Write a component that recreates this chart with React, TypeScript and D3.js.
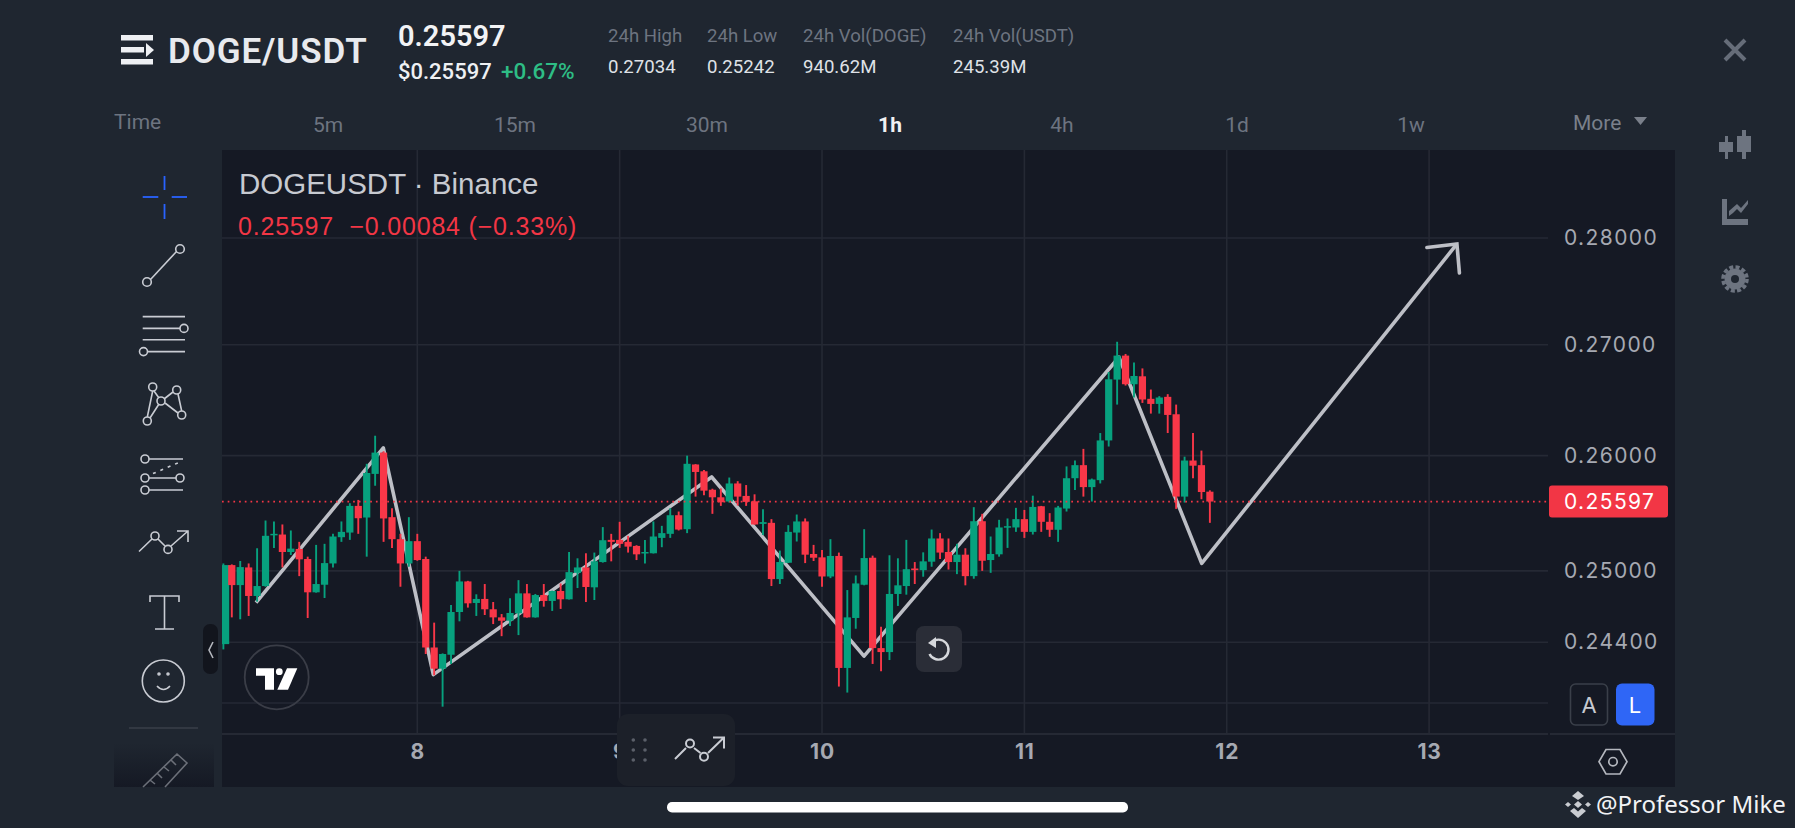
import { useEffect, useRef } from "react";
import * as d3 from "d3";

// hourly candles, first one is day 7 01:00
const opens = [
  0.24384, 0.25049, 0.24879, 0.25029, 0.24787, 0.24871, 0.25305, 0.25311, 0.25161, 0.25187,
  0.25101, 0.24818, 0.24882, 0.25063, 0.25288, 0.25328, 0.25559, 0.25458, 0.25839, 0.26027,
  0.25461, 0.25271, 0.25063, 0.25254, 0.25101, 0.24356, 0.24181, 0.24296, 0.24652, 0.2491,
  0.24728, 0.24762, 0.24675, 0.24607, 0.24579, 0.24641, 0.24809, 0.24607, 0.24795, 0.24745,
  0.24829, 0.24759, 0.24983, 0.25029, 0.2486, 0.25075, 0.25265, 0.25265, 0.25248, 0.25213,
  0.2515, 0.2515, 0.25282, 0.25317, 0.25478, 0.25357, 0.25922, 0.25862, 0.257, 0.25634,
  0.25597, 0.25755, 0.25646, 0.25599, 0.25403, 0.25412, 0.2493, 0.25069, 0.25328, 0.25424,
  0.25144, 0.25115, 0.24952, 0.25127, 0.24187, 0.24602, 0.24882, 0.25112, 0.24351, 0.24318,
  0.24804, 0.24871, 0.2502, 0.25006, 0.25078, 0.25277, 0.25161, 0.25075, 0.25138, 0.24955,
  0.25426, 0.25092, 0.25141, 0.25372, 0.25372, 0.25444, 0.25334, 0.25556, 0.25421, 0.25352,
  0.25536, 0.25801, 0.25916, 0.25723, 0.25784, 0.26135, 0.26682, 0.26901, 0.2664, 0.26712,
  0.26508, 0.26462, 0.26526, 0.26369, 0.2564, 0.25957, 0.25916, 0.25683,
];
const highs = [
  0.25063, 0.25055, 0.25084, 0.25063, 0.25193, 0.25432, 0.25424, 0.25398, 0.25346, 0.25248,
  0.25121, 0.25222, 0.25231, 0.25317, 0.25424, 0.25582, 0.25611, 0.25928, 0.26177, 0.26039,
  0.25539, 0.25317, 0.25461, 0.25317, 0.25121, 0.24563, 0.24307, 0.24711, 0.25, 0.24915,
  0.24801, 0.24888, 0.24736, 0.24635, 0.24767, 0.24921, 0.24888, 0.24804, 0.24888, 0.24832,
  0.24893, 0.25161, 0.25107, 0.2515, 0.25156, 0.25375, 0.25317, 0.25421, 0.253, 0.25219,
  0.25265, 0.25424, 0.25386, 0.25539, 0.2551, 0.26, 0.25925, 0.25873, 0.25709, 0.25712,
  0.25807, 0.25775, 0.25741, 0.2566, 0.2553, 0.25444, 0.25173, 0.25392, 0.25484, 0.2545,
  0.25222, 0.25179, 0.25271, 0.25156, 0.24837, 0.24961, 0.25357, 0.2513, 0.24529, 0.25133,
  0.25107, 0.25265, 0.25075, 0.25158, 0.25354, 0.25323, 0.25277, 0.25231, 0.25193, 0.25548,
  0.2549, 0.25294, 0.25438, 0.2545, 0.25542, 0.25524, 0.25648, 0.25559, 0.25496, 0.25559,
  0.25905, 0.25957, 0.2606, 0.25798, 0.26201, 0.26751, 0.27028, 0.26916, 0.26838, 0.26784,
  0.26592, 0.26532, 0.2655, 0.26456, 0.25991, 0.26201, 0.26045, 0.25695,
];
const lows = [
  0.2434, 0.24607, 0.24591, 0.24619, 0.24739, 0.24865, 0.25196, 0.25029, 0.25135, 0.24955,
  0.24602, 0.24815, 0.2477, 0.25029, 0.25248, 0.25265, 0.25317, 0.25121, 0.25735, 0.25248,
  0.25196, 0.24865, 0.25035, 0.25086, 0.24302, 0.24127, 0.2387, 0.2422, 0.24574, 0.24689,
  0.24619, 0.24627, 0.24551, 0.2445, 0.24535, 0.24459, 0.24605, 0.24605, 0.24697, 0.24661,
  0.24678, 0.24757, 0.24854, 0.24736, 0.24753, 0.2507, 0.25081, 0.25196, 0.25156, 0.25092,
  0.25063, 0.25148, 0.25202, 0.25282, 0.25346, 0.25323, 0.2564, 0.25651, 0.2549, 0.25559,
  0.25588, 0.25562, 0.25559, 0.25396, 0.25308, 0.24871, 0.24888, 0.25067, 0.25251, 0.25066,
  0.25084, 0.24865, 0.24938, 0.24034, 0.23985, 0.24512, 0.24877, 0.2422, 0.2416, 0.24252,
  0.24703, 0.24798, 0.24888, 0.2495, 0.25035, 0.25101, 0.25011, 0.24972, 0.24877, 0.24933,
  0.25, 0.24983, 0.25121, 0.25196, 0.25334, 0.25282, 0.25311, 0.25334, 0.25291, 0.25248,
  0.2551, 0.25697, 0.2564, 0.25597, 0.25755, 0.26081, 0.26456, 0.26628, 0.2652, 0.26471,
  0.26375, 0.26375, 0.26201, 0.25533, 0.25588, 0.25801, 0.25617, 0.25412,
];
const closes = [
  0.25049, 0.24879, 0.25032, 0.24787, 0.24871, 0.253, 0.25317, 0.25161, 0.2519, 0.25098,
  0.24818, 0.24888, 0.25066, 0.25294, 0.25334, 0.25559, 0.25452, 0.25847, 0.26027, 0.2545,
  0.25271, 0.25063, 0.25254, 0.25092, 0.24356, 0.24181, 0.24302, 0.24652, 0.2491, 0.24725,
  0.24762, 0.24675, 0.24607, 0.24579, 0.24644, 0.24809, 0.24607, 0.24795, 0.24745, 0.24829,
  0.24759, 0.24989, 0.25029, 0.24863, 0.25081, 0.25262, 0.25248, 0.25231, 0.25207, 0.25141,
  0.25161, 0.25294, 0.25323, 0.25478, 0.25354, 0.25928, 0.25856, 0.25692, 0.25634, 0.25591,
  0.25755, 0.2564, 0.25594, 0.25398, 0.25418, 0.2493, 0.25075, 0.25334, 0.25424, 0.25138,
  0.25112, 0.24952, 0.25127, 0.24187, 0.24607, 0.24893, 0.25109, 0.24351, 0.24318, 0.24804,
  0.24877, 0.25014, 0.25006, 0.25081, 0.25277, 0.25156, 0.25075, 0.25138, 0.24955, 0.25426,
  0.25086, 0.25144, 0.25372, 0.25383, 0.25444, 0.25334, 0.2555, 0.25421, 0.25352, 0.25545,
  0.25801, 0.25916, 0.25723, 0.2579, 0.26135, 0.26685, 0.26901, 0.2664, 0.26715, 0.26502,
  0.26462, 0.2652, 0.26363, 0.2564, 0.25957, 0.25911, 0.2568, 0.25597,
];

// the hand drawn wave, hours since day 7 00:00 and price
const waveHours = [4.87, 19.97, 25.9, 58.91, 76.98, 107.22, 117.03, 147.3];
const wavePrices = [0.24731, 0.26069, 0.24132, 0.25812, 0.24285, 0.26886, 0.25064, 0.27943];

const dayHours = [24, 48, 72, 96, 120, 144];
const dayLabels = ["8", "9", "10", "11", "12", "13"];
const priceLabels = [0.28, 0.27, 0.26, 0.25, 0.244];
const priceGrid = [0.28, 0.27, 0.26, 0.25, 0.244, 0.239];
const lastPrice = 0.25597;

const intervals = ["5m", "15m", "30m", "1h", "4h", "1d", "1w"];
const intervalX = [328, 515, 707, 890, 1062, 1237, 1411];
const statNames = ["24h High", "24h Low", "24h Vol(DOGE)", "24h Vol(USDT)"];
const statValues = ["0.27034", "0.25242", "940.62M", "245.39M"];
const statX = [608, 707, 803, 953];

const GREEN = "#07a17e";
const RED = "#f93748";
const PAGE = "#1f2630";
const CHART = "#151924";
const GRID = "#252934";
const UI_FONT = "Roboto, sans-serif";
const TV_FONT = "Inter, sans-serif";

const icon = { fill: "none", stroke: "#c9ccd3", strokeWidth: 1.6 };

export default function App() {
  const chartRef = useRef<SVGGElement>(null);

  useEffect(() => {
    const xScale = d3.scaleLinear().domain([24, 144]).range([417.3, 1429.1]);
    const yScale = d3.scaleLog().domain([0.28, 0.239]).range([238, 703]);

    const g = d3.select(chartRef.current);
    g.selectAll("*").remove();

    // grid
    g.append("g")
      .selectAll("line")
      .data(priceGrid)
      .join("line")
      .attr("x1", 222)
      .attr("x2", 1548)
      .attr("y1", (d) => yScale(d))
      .attr("y2", (d) => yScale(d))
      .attr("stroke", GRID)
      .attr("stroke-width", 1.6);
    g.append("g")
      .selectAll("line")
      .data(dayHours)
      .join("line")
      .attr("x1", (d) => xScale(d))
      .attr("x2", (d) => xScale(d))
      .attr("y1", 150)
      .attr("y2", 733)
      .attr("stroke", GRID)
      .attr("stroke-width", 1.6);

    // drawn wave goes under the candles
    const pts = waveHours.map((h, i) => [xScale(h), yScale(wavePrices[i])] as [number, number]);
    const tip = pts[pts.length - 1];
    g.append("path")
      .attr("d", d3.line()(pts))
      .attr("fill", "none")
      .attr("stroke", "#bdbfc6")
      .attr("stroke-width", 3.6)
      .attr("stroke-linejoin", "round");
    g.append("path")
      .attr(
        "d",
        d3.line()([
          [tip[0] - 30, tip[1] + 3.5],
          tip,
          [tip[0] + 2.5, tip[1] + 29],
        ])
      )
      .attr("fill", "none")
      .attr("stroke", "#bdbfc6")
      .attr("stroke-width", 3.6)
      .attr("stroke-linecap", "round");

    // candles
    const candleX = (i: number) => xScale(i + 1);
    const colorOf = (i: number) => (closes[i] >= opens[i] ? GREEN : RED);
    g.append("g")
      .selectAll("line")
      .data(closes)
      .join("line")
      .attr("x1", (_, i) => candleX(i))
      .attr("x2", (_, i) => candleX(i))
      .attr("y1", (_, i) => yScale(highs[i]))
      .attr("y2", (_, i) => yScale(lows[i]))
      .attr("stroke", (_, i) => colorOf(i))
      .attr("stroke-width", 1.9);
    g.append("g")
      .selectAll("rect")
      .data(closes)
      .join("rect")
      .attr("x", (_, i) => Math.max(candleX(i) - 3.6, 222))
      .attr("width", 7.2)
      .attr("y", (_, i) => yScale(Math.max(opens[i], closes[i])))
      .attr("height", (_, i) =>
        Math.max(1.5, Math.abs(yScale(opens[i]) - yScale(closes[i])))
      )
      .attr("fill", (_, i) => colorOf(i));

    // last price line
    g.append("line")
      .attr("x1", 222)
      .attr("x2", 1549)
      .attr("y1", yScale(lastPrice))
      .attr("y2", yScale(lastPrice))
      .attr("stroke", "#f23645")
      .attr("stroke-width", 1.7)
      .attr("stroke-dasharray", "1.7 4");

    // axes
    const xAxis = d3
      .axisBottom(xScale)
      .tickValues(dayHours)
      .tickSize(0)
      .tickFormat((_, i) => dayLabels[i]);
    const xg = g.append("g").attr("transform", "translate(0,741)").call(xAxis);
    xg.select(".domain").remove();
    xg.selectAll("text")
      .attr("font-family", TV_FONT)
      .attr("font-size", 21)
      .attr("font-weight", 700)
      .attr("letter-spacing", 0.8)
      .attr("fill", "#a6a9b2");

    const yAxis = d3
      .axisRight(yScale)
      .tickValues(priceLabels)
      .tickSize(0)
      .tickFormat(d3.format(".5f"));
    const yg = g.append("g").attr("transform", "translate(1564,0)").call(yAxis);
    yg.select(".domain").remove();
    yg.selectAll("text")
      .attr("x", 0)
      .attr("font-family", TV_FONT)
      .attr("font-size", 21)
      .attr("letter-spacing", 1.4)
      .attr("fill", "#a6a9b2");

    // last price label
    g.append("rect")
      .attr("x", 1549)
      .attr("y", yScale(lastPrice) - 16)
      .attr("width", 119)
      .attr("height", 32)
      .attr("rx", 3)
      .attr("fill", "#f23645");
    g.append("text")
      .attr("x", 1564)
      .attr("y", yScale(lastPrice))
      .attr("dy", "0.36em")
      .attr("font-family", TV_FONT)
      .attr("font-size", 21)
      .attr("letter-spacing", 1.4)
      .attr("fill", "#ffffff")
      .text(d3.format(".5f")(lastPrice));
  }, []);

  return (
    <svg
      width={1795}
      height={828}
      viewBox="0 0 1795 828"
      style={{ position: "fixed", top: 0, left: 0 }}
    >
      <rect width={1795} height={828} fill={PAGE} />

      {/* header */}
      <g fill="#eef0f3">
        <rect x={121} y={35} width={32} height={5.5} />
        <rect x={121} y={47} width={23} height={5.5} />
        <rect x={121} y={59} width={32} height={5.5} />
        <path d="M146 43 L154 50 L146 57 Z" />
      </g>
      <text x={168} y={63} fontFamily={UI_FONT} fontSize={35} fontWeight={600} letterSpacing={0.9} fill="#e8eaee">
        DOGE/USDT
      </text>
      <text x={398} y={46} fontFamily={UI_FONT} fontSize={29} fontWeight={600} fill="#f2f3f5">
        0.25597
      </text>
      <text x={398} y={79} fontFamily={UI_FONT} fontSize={22} fontWeight={500} fill="#eef0f3">
        $0.25597
      </text>
      <text x={501} y={79} fontFamily={UI_FONT} fontSize={22.5} fontWeight={500} fill="#2ebd85">
        +0.67%
      </text>
      {statNames.map((s, i) => (
        <text key={s} x={statX[i]} y={42} fontFamily={UI_FONT} fontSize={18.6} fill="#6d7480">
          {s}
        </text>
      ))}
      {statValues.map((s, i) => (
        <text key={s} x={statX[i]} y={73} fontFamily={UI_FONT} fontSize={18.6} fill="#dfe2e7">
          {s}
        </text>
      ))}

      {/* interval row */}
      <text x={114} y={129} fontFamily={UI_FONT} fontSize={21} fill="#6d7480">
        Time
      </text>
      {intervals.map((s, i) => (
        <text
          key={s}
          x={intervalX[i]}
          y={132}
          textAnchor="middle"
          fontFamily={UI_FONT}
          fontSize={21}
          fontWeight={s === "1h" ? 700 : 400}
          fill={s === "1h" ? "#f0f1f3" : "#6d7480"}
        >
          {s}
        </text>
      ))}
      <text x={1573} y={130} fontFamily={UI_FONT} fontSize={21} fill="#7a808b">
        More
      </text>
      <path d="M1634 117 L1647 117 L1640.5 125 Z" fill="#7a808b" />

      {/* chart panel */}
      <rect x={222} y={150} width={1453} height={637} fill={CHART} />
      <g ref={chartRef} />
      <line x1={222} x2={1548} y1={734} y2={734} stroke={GRID} strokeWidth={1.8} />
      <line x1={1550} x2={1675} y1={734} y2={734} stroke={GRID} strokeWidth={1.8} />

      <text x={239} y={194} fontFamily="'Liberation Sans', sans-serif" fontSize={29.5} fill="#c7cad1">
        DOGEUSDT · Binance
      </text>
      <text
        x={238}
        y={235}
        fontFamily="'Liberation Sans', sans-serif"
        fontSize={25}
        letterSpacing={0.8}
        fill="#f23645"
        xmlSpace="preserve"
      >
        0.25597  −0.00084 (−0.33%)
      </text>

      {/* TV badge */}
      <circle cx={276.7} cy={677.3} r={32} fill="none" stroke="#3a3d47" strokeWidth={1.8} />
      <g fill="#ffffff">
        <path d="M256 668.3 H274 V689.7 H265 V675.7 H256 Z" />
        <circle cx={279.3} cy={671.7} r={3.4} />
        <path d="M277.3 689.7 L287 668.3 H297.3 L288 689.7 Z" />
      </g>

      {/* refresh button */}
      <rect x={916} y={626} width={46} height={46} rx={8} fill="#2a2d37" />
      <path d="M931 643 A10 10 0 1 1 929.5 654" fill="none" stroke="#d6d8dc" strokeWidth={2.4} />
      <path d="M936 637 L936 648 L928 643 Z" fill="#d6d8dc" />

      {/* floating tool panel */}
      <rect x={617} y={714} width={118} height={72} rx={11} fill="#1c2029" />
      <g fill="#5b5f69">
        {[633.3, 645].map((x) =>
          [740, 750, 760].map((y) => <circle key={x + "-" + y} cx={x} cy={y} r={1.8} />)
        )}
      </g>
      <g {...icon} strokeWidth={2}>
        <path d="M675 759 L686 748 M694 748 L700.5 753 M708 753 L724 737.5 M713 737.5 H724 V748.5" />
        <circle cx={690} cy={743.5} r={4} />
        <circle cx={704} cy={756.7} r={4} />
      </g>

      {/* left toolbar */}
      <g stroke="#2962ff" strokeWidth={1.8}>
        <line x1={142.7} x2={158.3} y1={197} y2={197} />
        <line x1={171.7} x2={187} y1={197} y2={197} />
        <line x1={164.5} x2={164.5} y1={176} y2={190} />
        <line x1={164.5} x2={164.5} y1={204} y2={219} />
      </g>
      <g {...icon}>
        <path d="M150.5 279.5 L176.5 251.5" />
        <circle cx={180} cy={249} r={4.3} />
        <circle cx={147} cy={282} r={4.3} />

        <path d="M142.7 316.6 H185 M142.7 328.4 H180 M142.7 339.8 H185 M147.5 351.6 H185" />
        <circle cx={184} cy={328.4} r={4} />
        <circle cx={143.5} cy={351.6} r={4} />

        <path d="M152.7 391 L147.3 417 M154 391 L159 398 M164 399 L173 392 M178 394 L181.7 411 M150 418 L159 404 M165 403 L178 413" />
        <circle cx={152.7} cy={387} r={4} />
        <circle cx={176.7} cy={390} r={4} />
        <circle cx={161} cy={401} r={4} />
        <circle cx={181.7} cy={415} r={4} />
        <circle cx={147.3} cy={421} r={4} />

        <path d="M149 459 H183 M149 478 H176 M149 490 H183" />
        <path d="M153 473.6 L180 462" strokeDasharray="3 5" />
        <circle cx={145} cy={459} r={4} />
        <circle cx={145} cy={478} r={4} />
        <circle cx={180} cy={478} r={4} />
        <circle cx={145} cy={490} r={4} />

        <path d="M139 551.5 L152 539 M158 539 L165 546 M171 546 L188 531 M177 531 H188 V542" />
        <circle cx={155} cy={536} r={4} />
        <circle cx={168} cy={549.4} r={4} />

        <path d="M150 602 V596 H179 V602 M164.5 596 V629 M155 629 H174" />

        <circle cx={163.3} cy={681} r={21} />
        <circle cx={159} cy={674} r={1} />
        <circle cx={168} cy={674} r={1} />
        <path d="M157 686 Q163.5 693 170 686" />
      </g>
      <line x1={129} x2={198} y1={728} y2={728} stroke="#3a3f49" strokeWidth={1.6} />
      <defs>
        <linearGradient id="rulerFade" x1="0" y1="0" x2="0" y2="1">
          <stop offset="0" stopColor="#1f2630" />
          <stop offset="1" stopColor="#151924" />
        </linearGradient>
      </defs>
      <rect x={114} y={743} width={100} height={44} fill="url(#rulerFade)" />
      <path
        d="M143 787 L177 754 L187 763 L165 787 M150 780 L155 784 M157 773 L162 778 M164 767 L169 771 M171 760 L176 765"
        fill="none"
        stroke="#6b6f78"
        strokeWidth={1.6}
      />
      <rect x={203} y={624} width={15} height={50} rx={7} fill="#12151d" />
      <path d="M213 642 L209 650 L213 658" fill="none" stroke="#b4b7be" strokeWidth={1.6} />

      {/* auto / log buttons */}
      <rect x={1570.5} y={684} width={37} height={41} rx={5} fill="none" stroke="#3a3f49" strokeWidth={1.6} />
      <text x={1589} y={713} textAnchor="middle" fontFamily={TV_FONT} fontSize={22} fill="#c7cad1">
        A
      </text>
      <rect x={1616} y={683.5} width={38.5} height={42} rx={6} fill="#2f66f6" />
      <text x={1635} y={713} textAnchor="middle" fontFamily={TV_FONT} fontSize={22} fill="#ffffff">
        L
      </text>
      <path
        d="M1599 761.7 L1606 749.5 H1620 L1627 761.7 L1620 774 H1606 Z"
        fill="none"
        stroke="#b4b7be"
        strokeWidth={1.7}
      />
      <circle cx={1613} cy={761.7} r={4.2} fill="none" stroke="#b4b7be" strokeWidth={1.7} />

      {/* right side icons */}
      <path d="M1725 40 L1745 60 M1745 40 L1725 60" stroke="#666d79" strokeWidth={4} />
      <g fill="#6d7480">
        <rect x={1719} y={142} width={14} height={10} />
        <rect x={1725} y={136} width={3} height={23} />
        <rect x={1737} y={136} width={14} height={16} />
        <rect x={1742} y={130} width={4} height={29} />
        <path d="M1722 199 H1727 V219 H1748 V225 H1722 Z" />
        <path d="M1729 216 L1729 211 L1737 204 L1741 208 L1748 200 L1748 204 L1741 213 L1737 209 L1733 213 Z" />
        <circle cx={1735} cy={279} r={10.5} />
      </g>
      <circle cx={1735} cy={279} r={12} fill="none" stroke="#6d7480" strokeWidth={3.6} strokeDasharray="4 2.3" />
      <circle cx={1735} cy={279} r={4} fill={PAGE} />

      {/* footer */}
      <rect x={667} y={802} width={461} height={10.5} rx={5} fill="#ffffff" />
      <g fill="#c9ccd1">
        <path d="M1578 791 L1584 796 L1578 800 L1572 796 Z" />
        <path d="M1578 801 L1582 804.5 L1578 808 L1574 804.5 Z" />
        <path d="M1578 818 L1570 811 L1574 808 L1578 811.5 L1582 808 L1586 811 Z" />
        <path d="M1565 804.5 L1568 802 L1571 804.5 L1568 807 Z" />
        <path d="M1585 804.5 L1588 802 L1591 804.5 L1588 807 Z" />
      </g>
      <text x={1596} y={813} fontFamily="'Noto Sans', sans-serif" fontSize={24} fill="#f2f3f5">
        @Professor Mike
      </text>
    </svg>
  );
}
